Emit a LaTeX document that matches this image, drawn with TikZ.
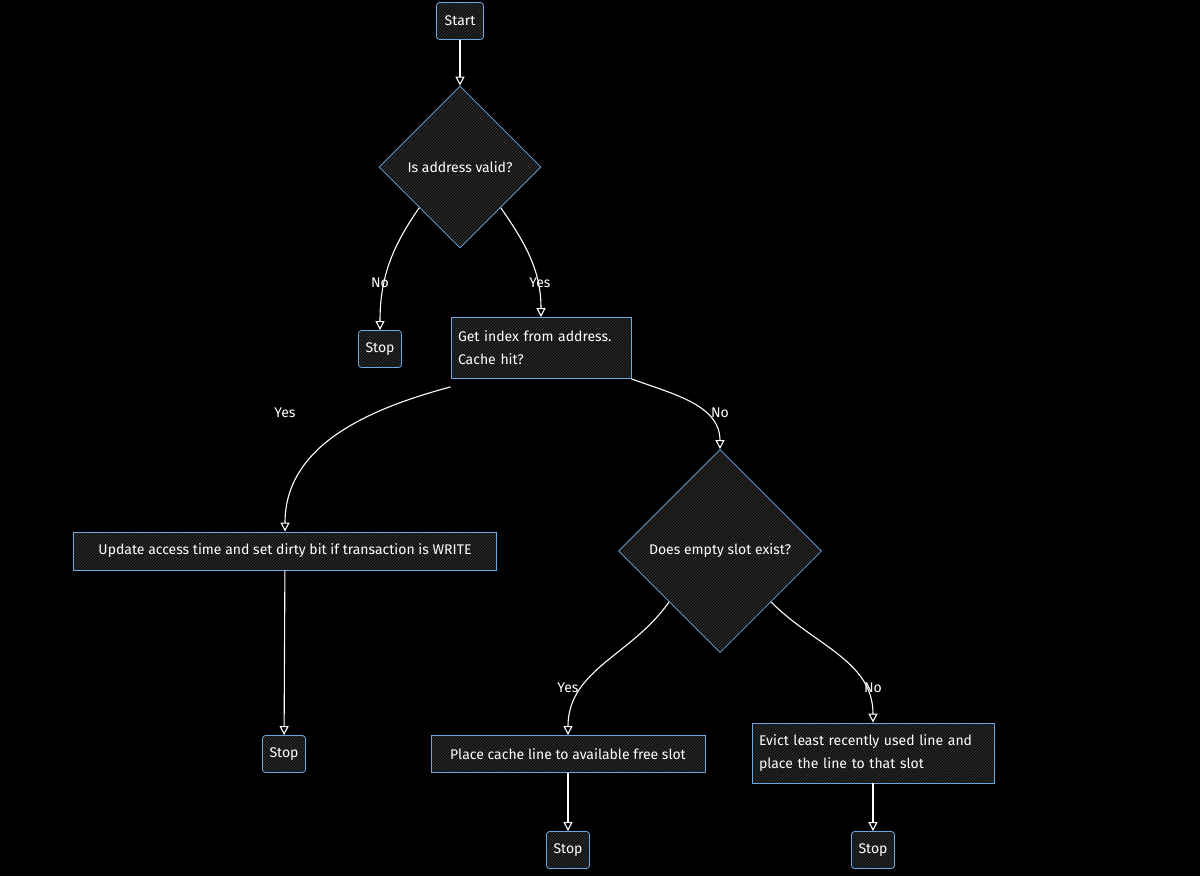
\documentclass[tikz,border=0pt]{standalone}
\usepackage{fontspec}
\setmainfont{Fira Sans}
\usetikzlibrary{shapes.geometric,arrows.meta,patterns}
\definecolor{nodefill}{HTML}{2A2A2A}
\definecolor{nodeline}{HTML}{6FA8DC}
\begin{document}
\begin{tikzpicture}[x=1pt,y=-1pt,
  base/.style={draw=nodeline,line width=0.8pt,preaction={fill=nodefill},pattern=north east lines,pattern color=black,text=white,font=\fontsize{14}{23}\selectfont},
  box/.style={base,rectangle,inner sep=0pt,align=left},
  term/.style={base,rectangle,rounded corners=3pt,inner sep=0pt},
  dia/.style={base,diamond,inner sep=0pt,aspect=1},
  arr/.style={white,line width=1.1pt,-{Triangle[open,length=9pt,width=9pt]}},
  lbl/.style={text=white,font=\fontsize{14}{16}\selectfont}]
\useasboundingbox[fill=black] (0,0) rectangle (1200,876);
\node[term,minimum width=47pt,minimum height=37pt] (start) at (460,21) {Start};
\node[dia,minimum width=162pt,minimum height=162pt] (d1) at (460,167) {Is address valid?};
\node[term,minimum width=43pt,minimum height=37pt] (s1) at (380,349) {Stop};
\node[box,minimum width=180pt,minimum height=61pt,text width=166pt] (get) at (541,348) {Get index from address.\\Cache hit?};
\node[box,minimum width=423pt,minimum height=38pt,align=center] (upd) at (285,551) {Update access time and set dirty bit if transaction is WRITE};
\node[dia,minimum width=203pt,minimum height=203pt] (d2) at (720,551) {Does empty slot exist?};
\node[term,minimum width=43pt,minimum height=37pt] (s2) at (284,754) {Stop};
\node[box,minimum width=274pt,minimum height=37pt,align=center] (pl) at (568,754) {Place cache line to available free slot};
\node[box,minimum width=242pt,minimum height=60pt,text width=228pt] (ev) at (873,753) {Evict least recently used line and\\place the line to that slot};
\node[term,minimum width=43pt,minimum height=37pt] (s3) at (568,850) {Stop};
\node[term,minimum width=43pt,minimum height=37pt] (s4) at (873,850) {Stop};
\draw[arr] (start) -- (d1.north);
\draw[arr] (d1.south west) to[out=235,in=90] (s1.north);
\draw[arr] (d1.south east) to[out=-55,in=90] (get.north);
\draw[arr] ([yshift=-8pt]get.south west) to[out=195,in=90] (upd.north);
\draw[arr] (get.south east) to[out=-20,in=90] (d2.north);
\draw[arr] (upd) -- (s2);
\draw[arr] (d2.south west) to[out=235,in=90] (pl.north);
\draw[arr] (d2.south east) to[out=-45,in=90] (ev.north);
\draw[arr] (pl) -- (s3);
\draw[arr] (ev) -- (s4);
\node[lbl] (l1) at (380,283) {No};
\node[lbl] (l2) at (540,283) {Yes};
\node[lbl] (l3) at (285,413) {Yes};
\node[lbl] (l4) at (720,413) {No};
\node[lbl] (l5) at (568,688) {Yes};
\node[lbl] (l6) at (873,688) {No};
\end{tikzpicture}
\end{document}
